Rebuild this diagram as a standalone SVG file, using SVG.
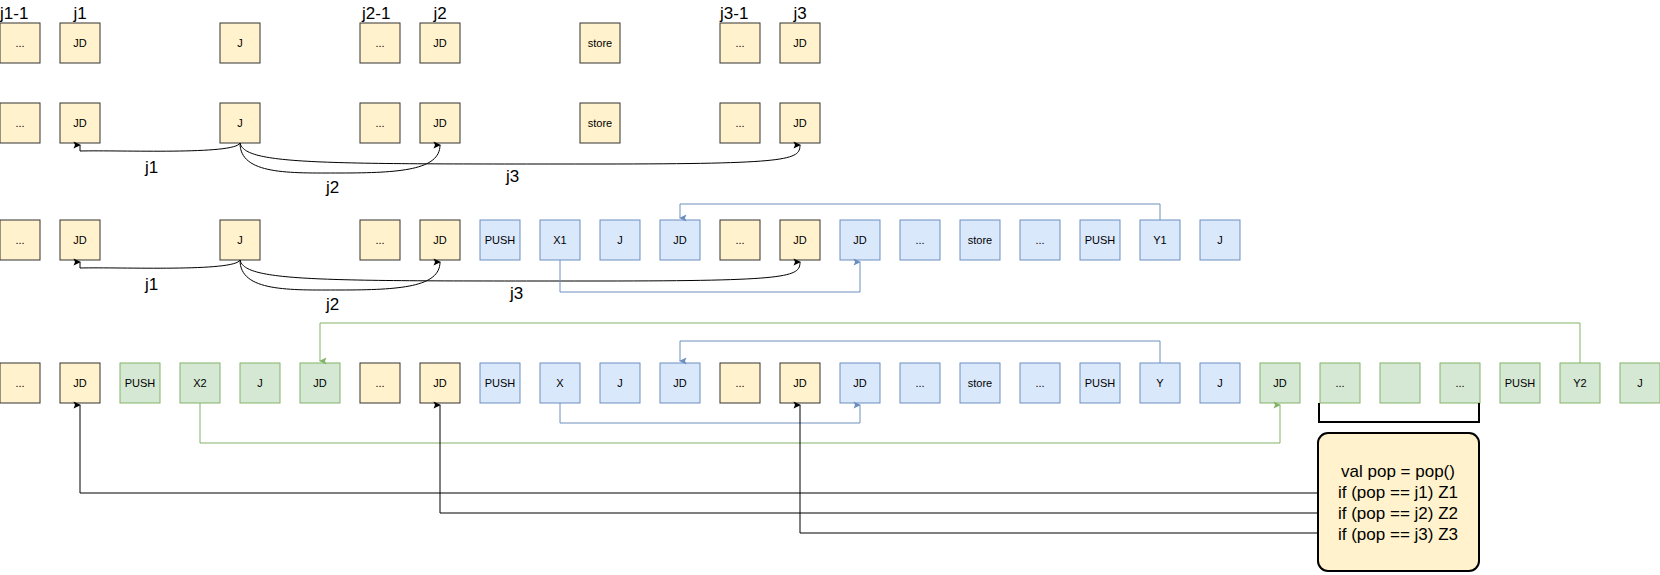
<svg xmlns="http://www.w3.org/2000/svg" width="1660" height="575" viewBox="0 0 1660 575">
<style>
text{font-family:"Liberation Sans",Arial,sans-serif;fill:#000}
.b rect{width:40px;height:40px}
.y{fill:#fff2cc;stroke:#333;stroke-width:1}
.bl{fill:#dae8fc;stroke:#6c8ebf;stroke-width:1}
.g{fill:#d5e8d4;stroke:#82b366;stroke-width:1}
.t{font-size:11px;text-anchor:middle}
.lab{font-size:17px}
.k{fill:none;stroke:#000;stroke-width:1}
.cb{fill:none;stroke:#6c8ebf;stroke-width:1}
.cg{fill:none;stroke:#82b366;stroke-width:1}
</style>
<defs>
<marker id="ak" markerWidth="8" markerHeight="8" refX="4" refY="7" orient="auto-start-reverse" viewBox="0 0 8 8" markerUnits="userSpaceOnUse"><path d="M4,0 L7.5,7.5 L4,6 L0.5,7.5Z" fill="#000" transform="rotate(0)"/></marker>
<marker id="ab" markerWidth="8" markerHeight="8" refX="4" refY="7" viewBox="0 0 8 8" markerUnits="userSpaceOnUse" orient="auto"><path d="M0.5,0.5 L4,8 L7.5,0.5 L4,2Z" fill="#6c8ebf"/></marker>
<marker id="ag" markerWidth="8" markerHeight="8" refX="4" refY="7" viewBox="0 0 8 8" markerUnits="userSpaceOnUse" orient="auto"><path d="M0.5,0.5 L4,8 L7.5,0.5 L4,2Z" fill="#82b366"/></marker>
<marker id="a" markerWidth="8" markerHeight="8" refX="4" refY="7" viewBox="0 0 8 8" markerUnits="userSpaceOnUse" orient="auto"><path d="M0.5,0.5 L4,8 L7.5,0.5 L4,2Z" fill="#000"/></marker>
</defs>
<g id="labels">
<text class="lab" x="0" y="19">j1-1</text>
<text class="lab" x="80" y="19" text-anchor="middle">j1</text>
<text class="lab" x="362" y="19">j2-1</text>
<text class="lab" x="440" y="19" text-anchor="middle">j2</text>
<text class="lab" x="720" y="19">j3-1</text>
<text class="lab" x="800" y="19" text-anchor="middle">j3</text>
</g>
<g id="row1">
<g id="r1n1"><rect class="y" x="0" y="23" width="40" height="40"/><text class="t" x="20" y="47">...</text></g>
<g id="r1n2"><rect class="y" x="60" y="23" width="40" height="40"/><text class="t" x="80" y="47">JD</text></g>
<g id="r1n3"><rect class="y" x="220" y="23" width="40" height="40"/><text class="t" x="240" y="47">J</text></g>
<g id="r1n4"><rect class="y" x="360" y="23" width="40" height="40"/><text class="t" x="380" y="47">...</text></g>
<g id="r1n5"><rect class="y" x="420" y="23" width="40" height="40"/><text class="t" x="440" y="47">JD</text></g>
<g id="r1n6"><rect class="y" x="580" y="23" width="40" height="40"/><text class="t" x="600" y="47">store</text></g>
<g id="r1n7"><rect class="y" x="720" y="23" width="40" height="40"/><text class="t" x="740" y="47">...</text></g>
<g id="r1n8"><rect class="y" x="780" y="23" width="40" height="40"/><text class="t" x="800" y="47">JD</text></g>
</g>
<g id="row2">
<g id="r2n1"><rect class="y" x="0" y="103" width="40" height="40"/><text class="t" x="20" y="127">...</text></g>
<g id="r2n2"><rect class="y" x="60" y="103" width="40" height="40"/><text class="t" x="80" y="127">JD</text></g>
<g id="r2n3"><rect class="y" x="220" y="103" width="40" height="40"/><text class="t" x="240" y="127">J</text></g>
<g id="r2n4"><rect class="y" x="360" y="103" width="40" height="40"/><text class="t" x="380" y="127">...</text></g>
<g id="r2n5"><rect class="y" x="420" y="103" width="40" height="40"/><text class="t" x="440" y="127">JD</text></g>
<g id="r2n6"><rect class="y" x="580" y="103" width="40" height="40"/><text class="t" x="600" y="127">store</text></g>
<g id="r2n7"><rect class="y" x="720" y="103" width="40" height="40"/><text class="t" x="740" y="127">...</text></g>
<g id="r2n8"><rect class="y" x="780" y="103" width="40" height="40"/><text class="t" x="800" y="127">JD</text></g>
</g>
<g id="row3">
<g id="r3n1"><rect class="y" x="0" y="220" width="40" height="40"/><text class="t" x="20" y="244">...</text></g>
<g id="r3n2"><rect class="y" x="60" y="220" width="40" height="40"/><text class="t" x="80" y="244">JD</text></g>
<g id="r3n3"><rect class="y" x="220" y="220" width="40" height="40"/><text class="t" x="240" y="244">J</text></g>
<g id="r3n4"><rect class="y" x="360" y="220" width="40" height="40"/><text class="t" x="380" y="244">...</text></g>
<g id="r3n5"><rect class="y" x="420" y="220" width="40" height="40"/><text class="t" x="440" y="244">JD</text></g>
<g id="r3n6"><rect class="bl" x="480" y="220" width="40" height="40"/><text class="t" x="500" y="244">PUSH</text></g>
<g id="r3n7"><rect class="bl" x="540" y="220" width="40" height="40"/><text class="t" x="560" y="244">X1</text></g>
<g id="r3n8"><rect class="bl" x="600" y="220" width="40" height="40"/><text class="t" x="620" y="244">J</text></g>
<g id="r3n9"><rect class="bl" x="660" y="220" width="40" height="40"/><text class="t" x="680" y="244">JD</text></g>
<g id="r3n10"><rect class="y" x="720" y="220" width="40" height="40"/><text class="t" x="740" y="244">...</text></g>
<g id="r3n11"><rect class="y" x="780" y="220" width="40" height="40"/><text class="t" x="800" y="244">JD</text></g>
<g id="r3n12"><rect class="bl" x="840" y="220" width="40" height="40"/><text class="t" x="860" y="244">JD</text></g>
<g id="r3n13"><rect class="bl" x="900" y="220" width="40" height="40"/><text class="t" x="920" y="244">...</text></g>
<g id="r3n14"><rect class="bl" x="960" y="220" width="40" height="40"/><text class="t" x="980" y="244">store</text></g>
<g id="r3n15"><rect class="bl" x="1020" y="220" width="40" height="40"/><text class="t" x="1040" y="244">...</text></g>
<g id="r3n16"><rect class="bl" x="1080" y="220" width="40" height="40"/><text class="t" x="1100" y="244">PUSH</text></g>
<g id="r3n17"><rect class="bl" x="1140" y="220" width="40" height="40"/><text class="t" x="1160" y="244">Y1</text></g>
<g id="r3n18"><rect class="bl" x="1200" y="220" width="40" height="40"/><text class="t" x="1220" y="244">J</text></g>
</g>
<g id="row4">
<g id="r4n0"><rect class="y" x="0" y="363" width="40" height="40"/><text class="t" x="20" y="387">...</text></g>
<g id="r4n1"><rect class="y" x="60" y="363" width="40" height="40"/><text class="t" x="80" y="387">JD</text></g>
<g id="r4n2"><rect class="g" x="120" y="363" width="40" height="40"/><text class="t" x="140" y="387">PUSH</text></g>
<g id="r4n3"><rect class="g" x="180" y="363" width="40" height="40"/><text class="t" x="200" y="387">X2</text></g>
<g id="r4n4"><rect class="g" x="240" y="363" width="40" height="40"/><text class="t" x="260" y="387">J</text></g>
<g id="r4n5"><rect class="g" x="300" y="363" width="40" height="40"/><text class="t" x="320" y="387">JD</text></g>
<g id="r4n6"><rect class="y" x="360" y="363" width="40" height="40"/><text class="t" x="380" y="387">...</text></g>
<g id="r4n7"><rect class="y" x="420" y="363" width="40" height="40"/><text class="t" x="440" y="387">JD</text></g>
<g id="r4n8"><rect class="bl" x="480" y="363" width="40" height="40"/><text class="t" x="500" y="387">PUSH</text></g>
<g id="r4n9"><rect class="bl" x="540" y="363" width="40" height="40"/><text class="t" x="560" y="387">X</text></g>
<g id="r4n10"><rect class="bl" x="600" y="363" width="40" height="40"/><text class="t" x="620" y="387">J</text></g>
<g id="r4n11"><rect class="bl" x="660" y="363" width="40" height="40"/><text class="t" x="680" y="387">JD</text></g>
<g id="r4n12"><rect class="y" x="720" y="363" width="40" height="40"/><text class="t" x="740" y="387">...</text></g>
<g id="r4n13"><rect class="y" x="780" y="363" width="40" height="40"/><text class="t" x="800" y="387">JD</text></g>
<g id="r4n14"><rect class="bl" x="840" y="363" width="40" height="40"/><text class="t" x="860" y="387">JD</text></g>
<g id="r4n15"><rect class="bl" x="900" y="363" width="40" height="40"/><text class="t" x="920" y="387">...</text></g>
<g id="r4n16"><rect class="bl" x="960" y="363" width="40" height="40"/><text class="t" x="980" y="387">store</text></g>
<g id="r4n17"><rect class="bl" x="1020" y="363" width="40" height="40"/><text class="t" x="1040" y="387">...</text></g>
<g id="r4n18"><rect class="bl" x="1080" y="363" width="40" height="40"/><text class="t" x="1100" y="387">PUSH</text></g>
<g id="r4n19"><rect class="bl" x="1140" y="363" width="40" height="40"/><text class="t" x="1160" y="387">Y</text></g>
<g id="r4n20"><rect class="bl" x="1200" y="363" width="40" height="40"/><text class="t" x="1220" y="387">J</text></g>
<g id="r4n21"><rect class="g" x="1260" y="363" width="40" height="40"/><text class="t" x="1280" y="387">JD</text></g>
<g id="r4n22"><rect class="g" x="1320" y="363" width="40" height="40"/><text class="t" x="1340" y="387">...</text></g>
<g id="r4n23"><rect class="g" x="1380" y="363" width="40" height="40"/></g>
<g id="r4n24"><rect class="g" x="1440" y="363" width="40" height="40"/><text class="t" x="1460" y="387">...</text></g>
<g id="r4n25"><rect class="g" x="1500" y="363" width="40" height="40"/><text class="t" x="1520" y="387">PUSH</text></g>
<g id="r4n26"><rect class="g" x="1560" y="363" width="40" height="40"/><text class="t" x="1580" y="387">Y2</text></g>
<g id="r4n27"><rect class="g" x="1620" y="363" width="40" height="40"/><text class="t" x="1640" y="387">J</text></g>
</g>
<g id="popbox">
<rect x="1318" y="433" width="161" height="138" rx="10" fill="#fff2cc" stroke="#000" stroke-width="2"/>
<text x="1398" y="477" font-size="17" text-anchor="middle">val pop = pop()</text>
<text x="1398" y="498" font-size="17" text-anchor="middle">if (pop == j1) Z1</text>
<text x="1398" y="519" font-size="17" text-anchor="middle">if (pop == j2) Z2</text>
<text x="1398" y="540" font-size="17" text-anchor="middle">if (pop == j3) Z3</text>
</g>
<g id="connectors">
<path class="k" d="M240,143 C235,155 120,150 80,151 L80,145" marker-end="url(#a)" transform=""/>
<path class="k" d="M240,143 C240,175 290,173 340,173 C400,173 440,170 440,145" marker-end="url(#a)"/>
<path class="k" d="M240,143 C245,165 320,164 600,164 C790,164 800,160 800,145" marker-end="url(#a)"/>
<text class="lab" x="145" y="173">j1</text>
<text class="lab" x="326" y="193">j2</text>
<text class="lab" x="506" y="182">j3</text>
<path class="k" d="M240,260 C235,272 120,267 80,268 L80,262" marker-end="url(#a)"/>
<path class="k" d="M240,260 C240,292 290,290 340,290 C400,290 440,287 440,262" marker-end="url(#a)"/>
<path class="k" d="M240,260 C245,282 320,281 600,281 C790,281 800,277 800,262" marker-end="url(#a)"/>
<text class="lab" x="145" y="290">j1</text>
<text class="lab" x="326" y="310">j2</text>
<text class="lab" x="510" y="299">j3</text>
<path class="cb" d="M560,260 V292 H860 V262" marker-end="url(#ab)"/>
<path class="cb" d="M1160,220 V204 H680 V218" marker-end="url(#ab)"/>
<path class="cg" d="M1580,363 V323 H320 V361" marker-end="url(#ag)"/>
<path class="cg" d="M200,403 V443 H1280 V405" marker-end="url(#ag)"/>
<path class="cb" d="M1160,363 V341 H680 V361" marker-end="url(#ab)"/>
<path class="cb" d="M560,403 V423 H860 V405" marker-end="url(#ab)"/>
<path class="k" d="M1318,493 H80 V405" marker-end="url(#a)"/>
<path class="k" d="M1318,513 H440 V405" marker-end="url(#a)"/>
<path class="k" d="M1318,533 H800 V405" marker-end="url(#a)"/>
<path d="M1319,403 V422 H1479 V403" fill="none" stroke="#000" stroke-width="2"/>
</g>
</svg>
